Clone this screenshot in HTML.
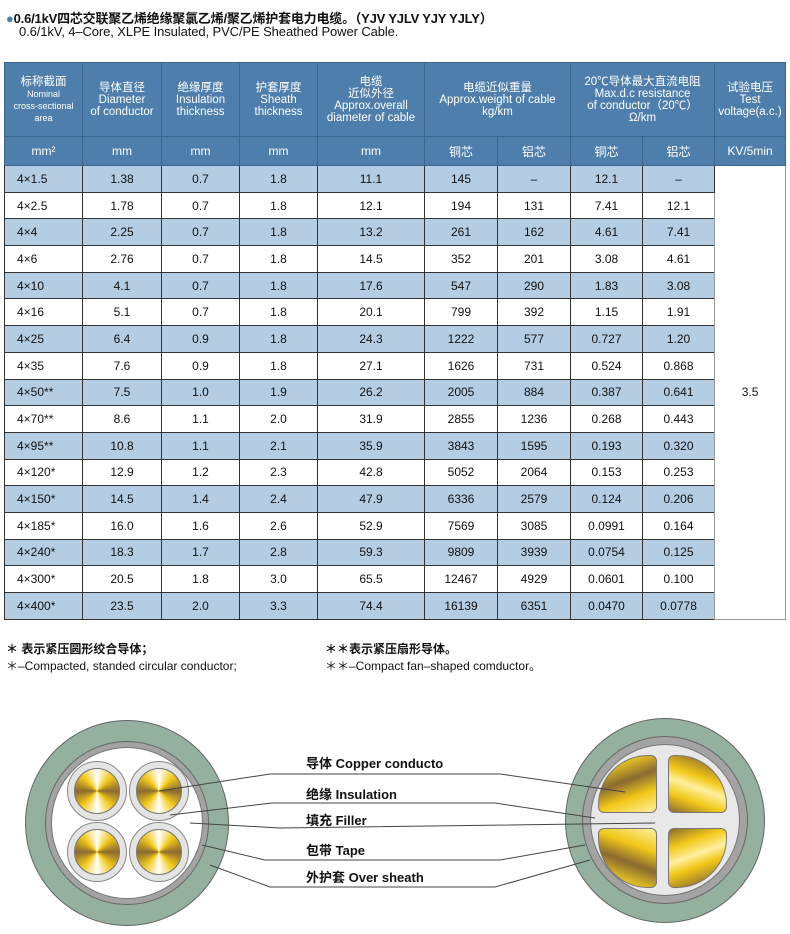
<!DOCTYPE html>
<html><head><meta charset="utf-8"><style>
*{margin:0;padding:0;box-sizing:border-box}
body{width:790px;height:934px;background:#fff;position:relative;overflow:hidden;font-family:"Liberation Sans","Noto Sans CJK SC",sans-serif;color:#111}
.t1{position:absolute;left:6px;top:8px;font-size:13px;font-weight:bold;letter-spacing:-0.2px}
.t2{position:absolute;left:19px;top:24px;font-size:13px;letter-spacing:-0.1px}
table{position:absolute;left:4px;top:62px;border-collapse:collapse;table-layout:fixed;width:781px}
td{text-align:center;font-size:12px;border:1px solid #333;height:26.7px;padding:0}
tr.h td{background:#4e7eab;color:#fff;font-size:11.5px;line-height:12px;border:1px solid #3b658f;height:74px}
tr.u td{background:#4e7eab;color:#fff;font-size:12px;border:1px solid #3b658f;height:29px}
tr.s td{background:#b4cde3}
td.f{text-align:left;padding-left:12px}
td.m{background:#fff!important;border:1px solid #999}
.fn{position:absolute;font-size:12px}
.lab{position:absolute;left:306px;font-size:13px;font-weight:bold}
.c{position:absolute;border-radius:50%}
.cu{background:conic-gradient(#fff,#f2c818,#8a6a30,#f2c818,#fff,#f2c818,#8a6a30,#f2c818,#fff);border:1px solid #777}
</style></head><body>
<div class="t1"><span style="color:#4e7eab">●</span>0.6/1kV四芯交联聚乙烯绝缘聚氯乙烯/聚乙烯护套电力电缆。（YJV YJLV YJY YJLY）</div>
<div class="t2">0.6/1kV, 4–Core, XLPE Insulated, PVC/PE Sheathed Power Cable.</div>
<table>
<colgroup><col style="width:78px"><col style="width:79px"><col style="width:78px"><col style="width:78px"><col style="width:107px"><col style="width:73px"><col style="width:73px"><col style="width:72px"><col style="width:72px"><col style="width:71px"></colgroup>
<tr class="h"><td>标称截面<br><span style="font-size:9px;line-height:10px">Nominal<br>cross-sectional<br>area</span></td><td>导体直径<br>Diameter<br>of conductor</td><td>绝缘厚度<br>Insulation<br>thickness</td><td>护套厚度<br>Sheath<br>thickness</td><td>电缆<br>近似外径<br>Approx.overall<br>diameter of cable</td><td colspan="2">电缆近似重量<br>Approx.weight of cable<br>kg/km</td><td colspan="2">20℃导体最大直流电阻<br>Max.d.c resistance<br>of conductor（20℃）<br>Ω/km</td><td>试验电压<br>Test<br>voltage(a.c.)</td></tr>
<tr class="u"><td>mm²</td><td>mm</td><td>mm</td><td>mm</td><td>mm</td><td>铜芯</td><td>铝芯</td><td>铜芯</td><td>铝芯</td><td>KV/5min</td></tr>
<tr class="s"><td class="f">4×1.5</td><td>1.38</td><td>0.7</td><td>1.8</td><td>11.1</td><td>145</td><td>–</td><td>12.1</td><td>–</td><td class="m" rowspan="17">3.5</td></tr>
<tr><td class="f">4×2.5</td><td>1.78</td><td>0.7</td><td>1.8</td><td>12.1</td><td>194</td><td>131</td><td>7.41</td><td>12.1</td></tr>
<tr class="s"><td class="f">4×4</td><td>2.25</td><td>0.7</td><td>1.8</td><td>13.2</td><td>261</td><td>162</td><td>4.61</td><td>7.41</td></tr>
<tr><td class="f">4×6</td><td>2.76</td><td>0.7</td><td>1.8</td><td>14.5</td><td>352</td><td>201</td><td>3.08</td><td>4.61</td></tr>
<tr class="s"><td class="f">4×10</td><td>4.1</td><td>0.7</td><td>1.8</td><td>17.6</td><td>547</td><td>290</td><td>1.83</td><td>3.08</td></tr>
<tr><td class="f">4×16</td><td>5.1</td><td>0.7</td><td>1.8</td><td>20.1</td><td>799</td><td>392</td><td>1.15</td><td>1.91</td></tr>
<tr class="s"><td class="f">4×25</td><td>6.4</td><td>0.9</td><td>1.8</td><td>24.3</td><td>1222</td><td>577</td><td>0.727</td><td>1.20</td></tr>
<tr><td class="f">4×35</td><td>7.6</td><td>0.9</td><td>1.8</td><td>27.1</td><td>1626</td><td>731</td><td>0.524</td><td>0.868</td></tr>
<tr class="s"><td class="f">4×50**</td><td>7.5</td><td>1.0</td><td>1.9</td><td>26.2</td><td>2005</td><td>884</td><td>0.387</td><td>0.641</td></tr>
<tr><td class="f">4×70**</td><td>8.6</td><td>1.1</td><td>2.0</td><td>31.9</td><td>2855</td><td>1236</td><td>0.268</td><td>0.443</td></tr>
<tr class="s"><td class="f">4×95**</td><td>10.8</td><td>1.1</td><td>2.1</td><td>35.9</td><td>3843</td><td>1595</td><td>0.193</td><td>0.320</td></tr>
<tr><td class="f">4×120*</td><td>12.9</td><td>1.2</td><td>2.3</td><td>42.8</td><td>5052</td><td>2064</td><td>0.153</td><td>0.253</td></tr>
<tr class="s"><td class="f">4×150*</td><td>14.5</td><td>1.4</td><td>2.4</td><td>47.9</td><td>6336</td><td>2579</td><td>0.124</td><td>0.206</td></tr>
<tr><td class="f">4×185*</td><td>16.0</td><td>1.6</td><td>2.6</td><td>52.9</td><td>7569</td><td>3085</td><td>0.0991</td><td>0.164</td></tr>
<tr class="s"><td class="f">4×240*</td><td>18.3</td><td>1.7</td><td>2.8</td><td>59.3</td><td>9809</td><td>3939</td><td>0.0754</td><td>0.125</td></tr>
<tr><td class="f">4×300*</td><td>20.5</td><td>1.8</td><td>3.0</td><td>65.5</td><td>12467</td><td>4929</td><td>0.0601</td><td>0.100</td></tr>
<tr class="s"><td class="f">4×400*</td><td>23.5</td><td>2.0</td><td>3.3</td><td>74.4</td><td>16139</td><td>6351</td><td>0.0470</td><td>0.0778</td></tr>
</table>
<div class="fn" style="left:6px;top:640px;font-weight:bold">＊ 表示紧压圆形绞合导体；</div>
<div class="fn" style="left:6px;top:657px">＊–Compacted, standed circular conductor;</div>
<div class="fn" style="left:325px;top:640px;font-weight:bold">＊＊表示紧压扇形导体。</div>
<div class="fn" style="left:325px;top:657px">＊＊–Compact fan–shaped comductor。</div>

<!-- left cable -->
<div class="c" style="left:25px;top:720px;width:204px;height:206px;background:#94b1a0;border:1px solid #666"></div>
<div class="c" style="left:45px;top:741px;width:164px;height:164px;background:#a3a3a3;border:1px solid #666"></div>
<div class="c" style="left:51px;top:747px;width:152px;height:152px;background:#fff;border:1px solid #777"></div>
<div class="c" style="left:67px;top:761px;width:60px;height:60px;background:#e4e4e4;border:1px solid #888"></div>
<div class="c" style="left:129px;top:761px;width:60px;height:60px;background:#e4e4e4;border:1px solid #888"></div>
<div class="c" style="left:67px;top:822px;width:60px;height:60px;background:#e4e4e4;border:1px solid #888"></div>
<div class="c" style="left:129px;top:822px;width:60px;height:60px;background:#e4e4e4;border:1px solid #888"></div>
<div class="c cu" style="left:74px;top:768px;width:46px;height:46px"></div>
<div class="c cu" style="left:136px;top:768px;width:46px;height:46px"></div>
<div class="c cu" style="left:74px;top:829px;width:46px;height:46px"></div>
<div class="c cu" style="left:136px;top:829px;width:46px;height:46px"></div>

<!-- right cable -->
<div class="c" style="left:565px;top:718px;width:200px;height:205px;background:#94b1a0;border:1px solid #666"></div>
<div class="c" style="left:582px;top:736px;width:166px;height:168px;background:#a3a3a3;border:1px solid #666"></div>
<div class="c" style="left:590px;top:744px;width:150px;height:152px;background:#e8e8e8;border:1px solid #777"></div>
<div style="position:absolute;left:598px;top:755px;width:59px;height:58px;border-radius:50px 6px 6px 6px;background:linear-gradient(160deg,#f5d020 15%,#8a6a30 45%,#f2c818 70%,#fff0a0);border:1px solid #777"></div>
<div style="position:absolute;left:668px;top:755px;width:59px;height:58px;border-radius:6px 50px 6px 6px;background:linear-gradient(200deg,#8a6a30 10%,#f2c818 40%,#fff0a0 55%,#f2c818 75%,#8a6a30);border:1px solid #777"></div>
<div style="position:absolute;left:598px;top:828px;width:59px;height:60px;border-radius:6px 6px 6px 50px;background:linear-gradient(20deg,#f5d020 15%,#8a6a30 45%,#f2c818 70%,#fff0a0);border:1px solid #777"></div>
<div style="position:absolute;left:668px;top:828px;width:59px;height:60px;border-radius:6px 6px 50px 6px;background:linear-gradient(-20deg,#8a6a30 10%,#f2c818 40%,#fff0a0 55%,#f2c818 75%,#8a6a30);border:1px solid #777"></div>

<svg style="position:absolute;left:0;top:0" width="790" height="934">
<g fill="none" stroke="#444" stroke-width="1">
<polyline points="159,791 270,774 500,774 625,792"/>
<polyline points="170,815 272,803 495,803 595,818"/>
<polyline points="190,823 280,828 655,823"/>
<polyline points="202,845 265,860 500,860 585,845"/>
<polyline points="210,865 270,887 495,887 590,860"/>
</g></svg>
<div class="lab" style="top:753px">导体 Copper conducto</div>
<div class="lab" style="top:784px">绝缘 Insulation</div>
<div class="lab" style="top:810px">填充 Filler</div>
<div class="lab" style="top:840px">包带 Tape</div>
<div class="lab" style="top:867px">外护套 Over sheath</div>
</body></html>
